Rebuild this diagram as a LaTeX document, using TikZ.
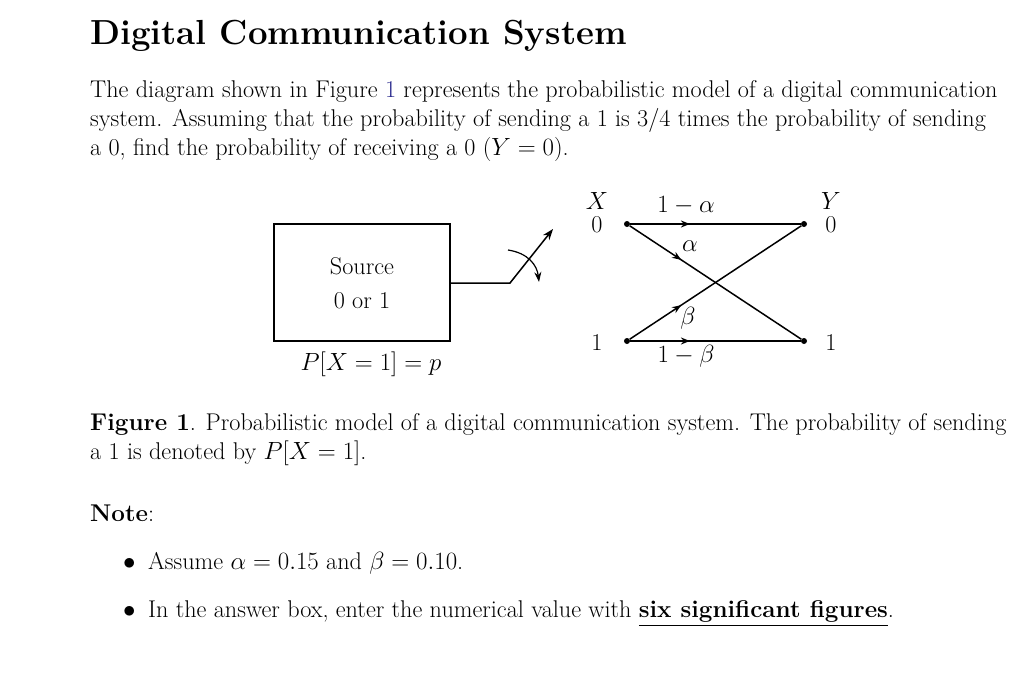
\documentclass[tikz,border=0pt]{standalone}
\usepackage{amsmath}
\usetikzlibrary{decorations.markings,arrows.meta}
\definecolor{linkblue}{RGB}{40,40,140}
\tikzset{
  txt/.style={anchor=base west,inner sep=0pt,font=\fontsize{24.2}{29}\selectfont},
  lbl/.style={inner sep=0pt,font=\fontsize{24.2}{29}\selectfont},
  dot/.style={circle,fill,inner sep=0pt,minimum size=6pt},
  ln/.style={line width=1.5pt},
  midarr/.style={ln,postaction={decorate},decoration={markings,mark=at position #1 with {\arrow{Stealth[length=9pt,width=7pt]}}}}
}
\begin{document}
\begin{tikzpicture}[x=1pt,y=-1pt]
\useasboundingbox (0,0) rectangle (1015,686);
\clip (0,0) rectangle (1015,686);
\node[anchor=base west,inner sep=0pt,font=\fontsize{34.8}{42}\selectfont\bfseries] (title) at (90,44) {Digital Communication System};
\node[txt] (p1) at (90,97) {The diagram shown in Figure \textcolor{linkblue}{1} represents the probabilistic model of a digital communication};
\node[txt] (p2) at (90,126) {system. Assuming that the probability of sending a 1 is 3/4 times the probability of sending};
\node[txt] (p3) at (90,155) {a 0, find the probability of receiving a 0 ($Y=0$).};
% diagram
\node[draw,ln,minimum width=176pt,minimum height=117pt,inner sep=0pt] (src) at (362,282.5) {};
\node[lbl] (s1) at (362,266) {Source};
\node[lbl] (s2) at (362,301) {0 or 1};
\node[lbl] (pr) at (371,364) {$P[X=1]=p$};
\coordinate (sw0) at (450,283);
\coordinate (sw1) at (510,283);
\coordinate (sw2) at (553,229);
\draw[ln,-{Stealth[length=11pt,width=8pt]}] (sw0) -- (sw1) -- (sw2);
\coordinate (c0) at (508,250);
\coordinate (c1) at (539,282);
\draw[line width=1.2pt,-{Stealth[length=10pt,width=7pt]}] (c0) .. controls (528,253) and (537,265) .. (c1);
\node[dot] (x0) at (627,224) {};
\node[dot] (y0) at (804,224) {};
\node[dot] (x1) at (627,341) {};
\node[dot] (y1) at (804,341) {};
\draw[midarr=0.35] (x0) -- (y0);
\draw[midarr=0.35] (x1) -- (y1);
\draw[midarr=0.3] (x0) -- (y1);
\draw[midarr=0.3] (x1) -- (y0);
\node[lbl] (lx) at (597,201) {$X$};
\node[lbl] (lx0) at (597,225) {0};
\node[lbl] (lx1) at (597,342) {1};
\node[lbl] (ly) at (831,201) {$Y$};
\node[lbl] (ly0) at (831,225) {0};
\node[lbl] (ly1) at (831,342) {1};
\node[lbl] (la) at (686,206) {$1-\alpha$};
\node[lbl] (a) at (690,246) {$\alpha$};
\node[lbl] (b) at (688,318) {$\beta$};
\node[lbl] (lb) at (686,356) {$1-\beta$};
% caption and notes
\node[txt] (c1t) at (90,430) {\textbf{Figure 1}. Probabilistic model of a digital communication system. The probability of sending};
\node[txt] (c2t) at (90,459) {a 1 is denoted by $P[X=1]$.};
\node[txt] (note) at (90,521) {\textbf{Note}:};
\node[txt] (b1) at (123,569) {$\bullet$};
\node[txt] (n1) at (148,569) {Assume $\alpha=0.15$ and $\beta=0.10$.};
\node[txt] (b2) at (123,617) {$\bullet$};
\node[txt] (n2) at (148,617) {In the answer box, enter the numerical value with \underline{\textbf{six significant figures}}.};
\end{tikzpicture}
\end{document}
